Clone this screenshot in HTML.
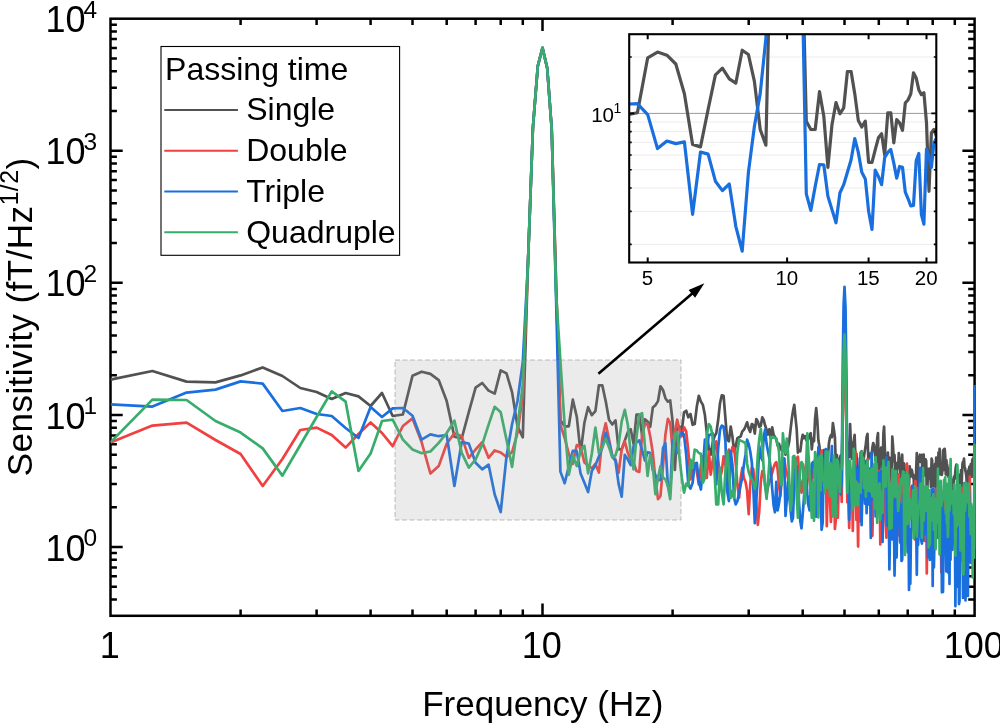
<!DOCTYPE html>
<html lang="en"><head><meta charset="utf-8"><title>Sensitivity vs Frequency</title>
<style>html,body{margin:0;padding:0;background:#fff}body{width:1000px;height:724px;overflow:hidden}svg{display:block}</style>
</head><body>
<svg width="1000" height="724" viewBox="0 0 1000 724" font-family="'Liberation Sans', Arial, Helvetica, sans-serif" fill="#000">
<rect x="0" y="0" width="1000" height="724" fill="#fff"/>
<defs><clipPath id="cm"><rect x="110.5" y="18.7" width="865.3" height="597.1"/></clipPath>
<clipPath id="ci"><rect x="629.2" y="34.2" width="307.1" height="228.3"/></clipPath></defs>
<g stroke="#000" stroke-width="2.5" fill="none" stroke-linecap="butt">
<rect x="110.5" y="18.7" width="864.1" height="597.1"/>
<path d="M110.5 599.6h6.4M974.6 599.6h-6.4M110.5 586.8h6.4M974.6 586.8h-6.4M110.5 576.3h6.4M974.6 576.3h-6.4M110.5 567.5h6.4M974.6 567.5h-6.4M110.5 559.8h6.4M974.6 559.8h-6.4M110.5 553.0h6.4M974.6 553.0h-6.4M110.5 547.0h12.2M974.6 547.0h-12.2M110.5 507.2h6.4M974.6 507.2h-6.4M110.5 484.0h6.4M974.6 484.0h-6.4M110.5 467.5h6.4M974.6 467.5h-6.4M110.5 454.7h6.4M974.6 454.7h-6.4M110.5 444.2h6.4M974.6 444.2h-6.4M110.5 435.4h6.4M974.6 435.4h-6.4M110.5 427.7h6.4M974.6 427.7h-6.4M110.5 421.0h6.4M974.6 421.0h-6.4M110.5 414.9h12.2M974.6 414.9h-12.2M110.5 375.2h6.4M974.6 375.2h-6.4M110.5 351.9h6.4M974.6 351.9h-6.4M110.5 335.4h6.4M974.6 335.4h-6.4M110.5 322.6h6.4M974.6 322.6h-6.4M110.5 312.1h6.4M974.6 312.1h-6.4M110.5 303.3h6.4M974.6 303.3h-6.4M110.5 295.6h6.4M974.6 295.6h-6.4M110.5 288.9h6.4M974.6 288.9h-6.4M110.5 282.8h12.2M974.6 282.8h-12.2M110.5 243.1h6.4M974.6 243.1h-6.4M110.5 219.8h6.4M974.6 219.8h-6.4M110.5 203.3h6.4M974.6 203.3h-6.4M110.5 190.5h6.4M974.6 190.5h-6.4M110.5 180.1h6.4M974.6 180.1h-6.4M110.5 171.2h6.4M974.6 171.2h-6.4M110.5 163.6h6.4M974.6 163.6h-6.4M110.5 156.8h6.4M974.6 156.8h-6.4M110.5 150.8h12.2M974.6 150.8h-12.2M110.5 111.0h6.4M974.6 111.0h-6.4M110.5 87.7h6.4M974.6 87.7h-6.4M110.5 71.2h6.4M974.6 71.2h-6.4M110.5 58.4h6.4M974.6 58.4h-6.4M110.5 48.0h6.4M974.6 48.0h-6.4M110.5 39.1h6.4M974.6 39.1h-6.4M110.5 31.5h6.4M974.6 31.5h-6.4M110.5 24.7h6.4M974.6 24.7h-6.4M240.6 615.8v-6.4M240.6 18.7v6.4M316.6 615.8v-6.4M316.6 18.7v6.4M370.6 615.8v-6.4M370.6 18.7v6.4M412.5 615.8v-6.4M412.5 18.7v6.4M446.7 615.8v-6.4M446.7 18.7v6.4M475.6 615.8v-6.4M475.6 18.7v6.4M500.7 615.8v-6.4M500.7 18.7v6.4M522.8 615.8v-6.4M522.8 18.7v6.4M542.5 615.8v-12.2M542.5 18.7v12.2M672.6 615.8v-6.4M672.6 18.7v6.4M748.7 615.8v-6.4M748.7 18.7v6.4M802.7 615.8v-6.4M802.7 18.7v6.4M844.5 615.8v-6.4M844.5 18.7v6.4M878.8 615.8v-6.4M878.8 18.7v6.4M907.7 615.8v-6.4M907.7 18.7v6.4M932.7 615.8v-6.4M932.7 18.7v6.4M954.8 615.8v-6.4M954.8 18.7v6.4"/>
</g>
<rect x="395" y="360" width="286" height="160" fill="none" stroke="#bdbdbd" stroke-width="1" stroke-dasharray="5,2.5"/>
<g clip-path="url(#cm)">
<polyline points="110.5,379.6 152.4,371.0 186.6,381.6 215.5,382.4 240.6,375.4 262.7,367.4 282.4,376.0 300.3,388.0 316.6,392.0 331.7,399.0 345.6,393.0 358.5,396.4 370.6,406.0 382.0,393.0 392.7,416.0 402.9,414.5 412.5,375.7 421.6,371.7 430.4,373.9 438.7,380.1 446.7,401.1 454.4,436.8 461.7,438.5 468.8,412.2 475.6,387.7 482.2,383.0 488.6,390.6 494.7,393.6 500.7,370.4 506.5,373.4 512.1,392.4 517.5,426.3 522.8,437.3 527.9,265.0 532.9,128.0 537.8,66.0 542.5,47.9 547.2,68.0 551.7,129.0 556.1,285.0 560.4,420.4 564.7,426.3 568.8,426.3 572.8,399.6 576.8,416.9 580.6,452.9 584.4,422.8 588.1,407.2 591.8,415.2 595.4,411.1 598.9,385.4 602.3,385.4 605.7,401.1 609.0,419.8 612.3,424.5 615.5,420.4 618.6,449.4 621.7,449.4 624.8,440.6 627.8,432.1 630.7,429.2 633.6,444.1 636.5,414.6 639.3,414.6 642.1,435.6 644.9,419.3 647.6,421.6 650.2,426.9 652.8,407.6 655.4,405.2 658.0,401.1 660.5,386.3 663.0,390.0 665.4,398.2 667.9,401.7 670.2,400.3 672.6,421.6 674.9,469.9 677.2,428.6 679.5,426.3 681.8,430.9 684.0,412.4 686.2,410.7 688.3,417.3 690.5,414.0 692.6,424.8 694.7,424.0 696.8,406.6 698.8,395.8 700.9,401.6 702.9,404.9 704.9,414.9 706.8,433.1 708.8,448.0 710.7,454.7 712.6,443.0 714.5,436.4 716.3,433.1 718.2,419.8 720.0,403.2 721.8,395.3 723.6,395.8 725.4,418.2 727.2,439.7 728.9,441.4 730.7,426.5 732.4,436.4 734.1,451.3 735.7,446.4 737.4,438.1 739.1,437.2 740.7,436.4 742.3,431.4 743.9,429.8 745.5,426.5 747.1,422.3 748.7,428.6 750.2,431.9 751.8,424.0 753.3,424.9 754.8,433.6 756.3,419.0 757.8,421.4 759.3,426.8 760.8,425.8 762.3,417.3 763.7,419.9 765.1,425.5 766.6,429.7 768.0,434.5 769.4,429.2 770.8,438.9 772.2,427.3 773.6,434.7 774.9,436.9 776.3,439.2 777.6,445.6 779.0,443.8 780.3,448.6 781.6,450.0 782.9,444.7 784.2,448.8 785.5,454.7 786.8,452.3 788.0,447.0 789.3,440.9 790.6,429.2 791.8,418.9 793.0,411.0 794.3,404.9 795.5,417.7 796.7,429.5 797.9,452.6 799.1,450.2 800.3,451.4 801.5,441.3 802.7,434.8 803.8,438.0 805.0,436.1 806.2,439.9 807.3,441.4 808.4,438.5 809.6,434.9 810.7,433.1 811.8,449.3 812.9,438.6 814.0,441.2 815.1,418.6 816.2,408.2 817.3,420.3 818.4,440.6 819.5,446.5 820.6,458.7 821.6,476.5 822.7,471.0 823.7,450.1 824.8,452.5 825.8,449.7 826.8,469.2 827.9,457.8 828.9,443.4 829.9,437.7 830.9,435.2 831.9,437.2 832.9,423.1 833.9,429.7 834.9,437.5 835.9,466.0 836.9,455.0 837.9,471.5 838.8,474.7 839.8,458.6 840.7,455.5 841.7,470.3 842.7,420.0 843.6,360.0 844.5,342.0 845.5,362.0 846.4,423.0 847.3,462.5 848.3,443.4 849.2,457.1 850.1,424.0 851.0,446.3 851.9,458.7 852.8,442.8 853.7,442.0 854.6,434.8 855.5,458.0 856.4,453.5 857.2,466.3 858.1,467.7 859.0,477.1 859.8,473.8 860.7,452.3 861.6,451.3 862.4,458.8 863.3,464.9 864.1,455.4 865.0,449.9 865.8,444.6 866.6,437.2 867.5,433.9 868.3,459.6 869.1,454.9 869.9,453.6 870.8,454.9 871.6,457.3 872.4,447.4 873.2,443.0 874.0,445.0 874.8,450.7 875.6,460.5 876.4,461.5 877.2,438.2 878.0,433.1 878.8,477.9 879.5,468.9 880.3,454.7 881.1,447.7 881.9,450.7 882.6,469.5 883.4,433.5 884.1,426.5 884.9,450.3 885.7,475.7 886.4,463.0 887.2,471.3 887.9,452.5 888.6,473.1 889.4,457.5 890.1,461.8 890.9,463.1 891.6,483.1 892.3,436.5 893.0,445.6 893.8,460.9 894.5,454.9 895.2,470.0 895.9,475.0 896.6,478.4 897.3,462.8 898.1,467.9 898.8,453.1 899.5,463.7 900.2,471.0 900.9,492.0 901.5,462.5 902.2,454.7 902.9,478.7 903.6,463.0 904.3,464.3 905.0,489.1 905.7,471.2 906.3,470.1 907.0,482.3 907.7,473.9 908.3,472.6 909.0,485.8 909.7,466.3 910.3,476.9 911.0,470.4 911.7,469.8 912.3,472.3 913.0,477.7 913.6,475.1 914.3,497.5 914.9,475.8 915.5,506.1 916.2,469.0 916.8,453.1 917.5,487.9 918.1,463.0 918.7,458.7 919.4,457.1 920.0,454.7 920.6,462.0 921.2,457.2 921.9,454.9 922.5,483.6 923.1,464.3 923.7,454.7 924.3,475.5 924.9,472.4 925.6,459.3 926.2,461.0 926.8,494.7 927.4,488.7 928.0,468.9 928.6,471.4 929.2,478.3 929.8,468.7 930.4,475.4 931.0,487.2 931.6,458.7 932.1,460.3 932.7,476.0 933.3,486.0 933.9,472.3 934.5,470.7 935.1,463.8 935.6,487.4 936.2,457.5 936.8,481.4 937.4,463.8 937.9,469.2 938.5,452.6 939.1,466.4 939.6,448.8 940.2,474.4 940.8,468.6 941.3,472.2 941.9,474.9 942.4,470.1 943.0,450.6 943.6,449.7 944.1,470.0 944.7,448.8 945.2,455.9 945.8,474.5 946.3,460.0 946.8,463.2 947.4,466.2 947.9,476.3 948.5,468.3 949.0,469.8 949.5,472.5 950.1,476.8 950.6,478.3 951.1,501.1 951.7,481.0 952.2,479.9 952.7,480.7 953.3,488.5 953.8,477.8 954.3,476.3 954.8,478.5 955.4,470.6 955.9,466.8 956.4,464.5 956.9,468.1 957.4,504.6 957.9,491.3 958.4,480.5 959.0,481.3 959.5,474.9 960.0,510.1 960.5,488.6 961.0,470.1 961.5,489.6 962.0,473.9 962.5,463.9 963.0,461.8 963.5,461.9 964.0,458.7 964.5,467.3 965.0,467.7 965.5,471.3 966.0,473.4 966.5,478.1 966.9,497.7 967.4,483.8 967.9,472.2 968.4,470.5 968.9,468.9 969.4,498.9 969.8,466.4 970.3,476.3 970.8,464.2 971.3,466.6 971.8,476.8 972.2,460.1 972.7,459.0 973.2,461.2 973.7,456.8 974.1,463.3 974.6,452.0" fill="none" stroke="#515151" stroke-width="2.7" stroke-linejoin="round" stroke-linecap="butt" />
<polyline points="110.5,442.4 152.4,425.6 186.6,422.6 215.5,440.0 240.6,454.0 262.7,486.0 282.4,459.0 300.3,430.0 316.6,427.6 331.7,435.0 345.6,447.6 358.5,434.0 370.6,422.4 382.0,433.0 392.7,446.2 402.9,426.0 412.5,418.4 421.6,442.1 430.4,473.5 438.7,466.1 446.7,443.7 454.4,433.3 461.7,436.3 468.8,457.8 475.6,449.5 482.2,442.1 488.6,457.8 494.7,450.4 500.7,452.5 506.5,457.0 512.1,452.0 517.5,433.0 522.8,395.0 527.9,265.0 532.9,128.0 537.8,66.0 542.5,47.9 547.2,68.0 551.7,129.0 556.1,285.0 560.4,425.0 564.7,438.0 568.8,453.8 572.8,463.9 576.8,445.0 580.6,447.2 584.4,462.5 588.1,465.4 591.8,468.3 595.4,463.9 598.9,472.6 602.3,437.8 605.7,423.3 609.0,439.3 612.3,455.9 615.5,459.5 618.6,472.7 621.7,449.5 624.8,441.3 627.8,452.8 630.7,459.5 633.6,462.8 636.5,471.0 639.3,471.9 642.1,434.6 644.9,424.7 647.6,423.9 650.2,436.3 652.8,452.8 655.4,479.3 658.0,499.2 660.5,495.9 663.0,466.1 665.4,434.6 667.9,418.9 670.2,423.0 672.6,449.5 674.9,431.3 677.2,419.7 679.5,429.7 681.8,436.3 684.0,427.2 686.2,431.3 688.3,451.2 690.5,479.3 692.6,467.9 694.7,462.9 696.8,471.2 698.8,484.5 700.9,464.6 702.9,456.3 704.9,471.2 706.8,477.9 708.8,451.3 710.7,474.6 712.6,461.3 714.5,448.0 716.3,441.4 718.2,459.6 720.0,477.9 721.8,471.2 723.6,456.3 725.4,464.6 727.2,477.9 728.9,449.7 730.7,454.7 732.4,447.2 734.1,448.0 735.7,462.9 737.4,484.5 739.1,497.8 740.7,477.9 742.3,467.9 743.9,477.9 745.5,481.8 747.1,490.8 748.7,514.1 750.2,485.4 751.8,467.5 753.3,469.2 754.8,485.4 756.3,503.4 757.8,524.9 759.3,510.5 760.8,481.8 762.3,471.0 763.7,472.8 765.1,485.4 766.6,494.4 768.0,487.2 769.4,481.8 770.8,478.2 772.2,472.8 773.6,467.5 774.9,463.9 776.3,462.1 777.6,469.2 779.0,485.4 780.3,496.2 781.6,481.8 782.9,467.5 784.2,458.5 785.5,467.5 786.8,472.8 788.0,478.2 789.3,490.8 790.6,499.8 791.8,489.0 793.0,478.2 794.3,471.0 795.5,463.9 796.7,458.5 797.9,456.7 799.1,471.0 800.3,485.4 801.5,492.6 802.7,481.8 803.8,474.6 805.0,469.2 806.2,463.9 807.3,462.1 808.4,471.0 809.6,481.8 810.7,489.0 811.8,476.4 812.9,478.2 814.0,463.5 815.1,469.4 816.2,473.3 817.3,492.8 818.4,491.0 819.5,489.1 820.6,492.8 821.6,450.5 822.7,490.5 823.7,487.6 824.8,485.9 825.8,463.9 826.8,526.2 827.9,478.9 828.9,498.9 829.9,497.2 830.9,522.0 831.9,503.4 832.9,499.2 833.9,463.5 834.9,528.9 835.9,519.0 836.9,486.3 837.9,517.6 838.8,481.0 839.8,488.3 840.7,464.7 841.7,502.0 842.7,425.0 843.6,364.0 844.5,346.0 845.5,366.0 846.4,428.0 847.3,502.2 848.3,495.9 849.2,528.0 850.1,468.9 851.0,475.2 851.9,478.7 852.8,531.0 853.7,480.6 854.6,456.0 855.5,451.6 856.4,520.0 857.2,491.9 858.1,546.6 859.0,472.6 859.8,485.5 860.7,521.1 861.6,470.8 862.4,495.1 863.3,484.6 864.1,471.3 865.0,499.3 865.8,478.5 866.6,502.8 867.5,459.3 868.3,498.4 869.1,474.3 869.9,497.6 870.8,478.8 871.6,511.3 872.4,535.8 873.2,496.0 874.0,487.8 874.8,508.1 875.6,484.1 876.4,515.0 877.2,488.9 878.0,490.9 878.8,496.5 879.5,470.9 880.3,544.5 881.1,534.0 881.9,499.7 882.6,536.7 883.4,500.6 884.1,483.8 884.9,487.6 885.7,519.1 886.4,537.6 887.2,496.3 887.9,526.8 888.6,499.2 889.4,491.4 890.1,492.8 890.9,493.8 891.6,519.9 892.3,469.6 893.0,513.3 893.8,498.4 894.5,513.4 895.2,554.4 895.9,498.4 896.6,528.2 897.3,476.6 898.1,535.2 898.8,474.1 899.5,487.0 900.2,542.8 900.9,493.6 901.5,498.3 902.2,519.7 902.9,475.7 903.6,527.1 904.3,494.6 905.0,490.1 905.7,526.1 906.3,499.1 907.0,463.7 907.7,494.8 908.3,504.6 909.0,501.7 909.7,493.7 910.3,505.0 911.0,487.3 911.7,491.2 912.3,520.6 913.0,504.8 913.6,530.9 914.3,496.0 914.9,539.6 915.5,481.0 916.2,516.1 916.8,496.4 917.5,510.8 918.1,488.1 918.7,495.5 919.4,508.5 920.0,502.9 920.6,490.7 921.2,513.8 921.9,534.9 922.5,483.4 923.1,531.3 923.7,493.5 924.3,541.0 924.9,532.0 925.6,510.4 926.2,500.8 926.8,573.5 927.4,508.4 928.0,518.9 928.6,490.3 929.2,503.4 929.8,501.2 930.4,554.3 931.0,517.4 931.6,521.8 932.1,523.5 932.7,540.7 933.3,488.9 933.9,496.4 934.5,506.0 935.1,503.9 935.6,509.4 936.2,488.9 936.8,491.3 937.4,528.4 937.9,514.6 938.5,508.8 939.1,509.6 939.6,521.4 940.2,510.6 940.8,525.1 941.3,572.2 941.9,527.7 942.4,516.4 943.0,491.6 943.6,507.3 944.1,529.3 944.7,510.0 945.2,487.2 945.8,531.4 946.3,555.0 946.8,530.4 947.4,486.2 947.9,484.6 948.5,540.9 949.0,503.3 949.5,524.1 950.1,510.9 950.6,559.7 951.1,525.6 951.7,544.7 952.2,544.8 952.7,518.3 953.3,522.8 953.8,507.0 954.3,511.5 954.8,517.1 955.4,509.3 955.9,502.6 956.4,503.4 956.9,514.6 957.4,501.5 957.9,498.4 958.4,512.8 959.0,559.8 959.5,504.4 960.0,498.2 960.5,530.6 961.0,507.6 961.5,560.5 962.0,511.2 962.5,487.9 963.0,500.7 963.5,513.8 964.0,509.8 964.5,501.7 965.0,532.9 965.5,566.0 966.0,489.7 966.5,535.3 966.9,531.3 967.4,508.9 967.9,533.3 968.4,535.7 968.9,494.9 969.4,513.3 969.8,476.5 970.3,504.6 970.8,519.6 971.3,516.0 971.8,549.5 972.2,528.1 972.7,540.8 973.2,534.2 973.7,529.7 974.1,548.2 974.6,448.0" fill="none" stroke="#F14040" stroke-width="2.7" stroke-linejoin="round" stroke-linecap="butt" />
<polyline points="110.5,404.4 152.4,406.6 186.6,392.6 215.5,389.6 240.6,381.4 262.7,383.6 282.4,411.0 300.3,408.0 316.6,414.0 331.7,416.0 345.6,428.0 358.5,438.0 370.6,407.0 382.0,417.0 392.7,408.4 402.9,408.0 412.5,415.8 421.6,439.7 430.4,434.4 438.7,436.2 446.7,435.0 454.4,486.0 461.7,442.1 468.8,443.6 475.6,462.7 482.2,469.3 488.6,464.7 494.7,494.5 500.7,512.0 506.5,456.5 512.1,424.0 517.5,401.0 522.8,362.0 527.9,265.0 532.9,128.0 537.8,66.0 542.5,47.9 547.2,68.0 551.7,129.0 556.1,300.0 560.4,471.6 564.7,483.3 568.8,466.3 572.8,450.9 576.8,451.2 580.6,473.4 584.4,482.7 588.1,492.1 591.8,471.0 595.4,465.2 598.9,456.4 602.3,447.6 605.7,432.7 609.0,442.4 612.3,456.4 615.5,461.1 618.6,483.9 621.7,496.7 624.8,454.9 627.8,459.3 630.7,465.2 633.6,445.9 636.5,442.4 639.3,440.4 642.1,450.0 644.9,460.5 647.6,452.3 650.2,452.9 652.8,470.4 655.4,475.1 658.0,480.1 660.5,479.8 663.0,448.2 665.4,443.2 667.9,486.2 670.2,493.0 672.6,440.0 674.9,445.9 677.2,452.9 679.5,436.0 681.8,432.5 684.0,434.8 686.2,454.7 688.3,484.5 690.5,488.6 692.6,482.8 694.7,464.6 696.8,462.9 698.8,481.2 700.9,489.5 702.9,467.9 704.9,439.7 706.8,449.7 708.8,434.8 710.7,434.8 712.6,433.1 714.5,456.3 716.3,484.5 718.2,448.0 720.0,429.8 721.8,425.6 723.6,426.5 725.4,441.4 727.2,491.1 728.9,501.1 730.7,451.3 732.4,464.6 734.1,497.8 735.7,504.4 737.4,501.1 739.1,492.8 740.7,484.5 742.3,477.9 743.9,464.6 745.5,454.9 747.1,439.6 748.7,444.1 750.2,451.3 751.8,462.1 753.3,487.2 754.8,523.1 756.3,499.8 757.8,478.2 759.3,445.9 760.8,456.7 762.3,460.3 763.7,436.9 765.1,429.7 766.6,444.1 768.0,451.3 769.4,458.5 770.8,469.2 772.2,489.0 773.6,505.2 774.9,512.3 776.3,481.8 777.6,510.5 779.0,503.4 780.3,494.4 781.6,469.2 782.9,460.3 784.2,458.5 785.5,515.9 786.8,499.8 788.0,481.8 789.3,496.2 790.6,510.5 791.8,521.3 793.0,517.7 794.3,481.8 795.5,469.2 796.7,465.7 797.9,485.4 799.1,503.4 800.3,521.3 801.5,528.5 802.7,514.1 803.8,499.8 805.0,478.2 806.2,471.0 807.3,494.4 808.4,505.2 809.6,510.5 810.7,485.4 811.8,463.9 812.9,462.1 814.0,466.3 815.1,459.3 816.2,516.7 817.3,472.4 818.4,447.1 819.5,494.1 820.6,492.2 821.6,529.8 822.7,522.3 823.7,458.9 824.8,460.1 825.8,449.2 826.8,458.7 827.9,472.4 828.9,479.0 829.9,475.1 830.9,470.2 831.9,446.0 832.9,504.0 833.9,478.0 834.9,480.6 835.9,494.5 836.9,503.0 837.9,463.8 838.8,474.1 839.8,469.1 840.7,494.3 841.7,480.3 842.7,367.0 843.6,305.0 844.5,286.9 845.5,307.0 846.4,370.0 847.3,477.2 848.3,467.0 849.2,519.8 850.1,480.7 851.0,480.6 851.9,497.7 852.8,480.0 853.7,483.2 854.6,468.2 855.5,465.7 856.4,476.0 857.2,479.4 858.1,469.5 859.0,502.2 859.8,458.3 860.7,482.1 861.6,525.2 862.4,488.8 863.3,493.2 864.1,468.0 865.0,503.7 865.8,461.1 866.6,513.2 867.5,486.7 868.3,504.4 869.1,468.6 869.9,468.6 870.8,538.0 871.6,452.4 872.4,474.0 873.2,498.3 874.0,482.0 874.8,475.4 875.6,516.5 876.4,512.6 877.2,500.8 878.0,475.2 878.8,472.9 879.5,484.9 880.3,475.0 881.1,471.1 881.9,472.1 882.6,542.0 883.4,480.9 884.1,466.2 884.9,480.2 885.7,485.6 886.4,457.4 887.2,525.5 887.9,473.4 888.6,496.5 889.4,569.4 890.1,528.2 890.9,503.9 891.6,505.6 892.3,539.4 893.0,538.4 893.8,500.3 894.5,575.6 895.2,543.9 895.9,470.9 896.6,557.4 897.3,519.1 898.1,489.6 898.8,524.7 899.5,502.8 900.2,541.7 900.9,505.2 901.5,561.0 902.2,559.7 902.9,528.8 903.6,495.3 904.3,527.7 905.0,514.3 905.7,477.4 906.3,497.3 907.0,531.9 907.7,552.1 908.3,493.4 909.0,590.0 909.7,542.0 910.3,583.8 911.0,529.1 911.7,528.3 912.3,485.6 913.0,508.4 913.6,510.0 914.3,519.9 914.9,492.7 915.5,506.1 916.2,525.3 916.8,574.8 917.5,523.4 918.1,545.0 918.7,529.9 919.4,500.0 920.0,467.9 920.6,501.9 921.2,540.0 921.9,543.6 922.5,512.2 923.1,540.0 923.7,517.6 924.3,532.1 924.9,532.8 925.6,534.1 926.2,517.6 926.8,488.9 927.4,532.0 928.0,557.1 928.6,545.9 929.2,541.3 929.8,560.0 930.4,514.8 931.0,515.8 931.6,489.7 932.1,501.0 932.7,586.0 933.3,488.7 933.9,567.5 934.5,537.2 935.1,516.6 935.6,500.7 936.2,534.6 936.8,525.7 937.4,518.9 937.9,538.0 938.5,534.2 939.1,492.4 939.6,537.1 940.2,489.0 940.8,501.3 941.3,512.3 941.9,592.3 942.4,492.6 943.0,592.0 943.6,537.3 944.1,527.1 944.7,541.7 945.2,510.6 945.8,521.4 946.3,571.5 946.8,502.9 947.4,510.4 947.9,515.6 948.5,572.9 949.0,516.0 949.5,584.0 950.1,503.4 950.6,492.2 951.1,530.4 951.7,536.9 952.2,549.8 952.7,510.3 953.3,497.6 953.8,497.6 954.3,536.3 954.8,508.1 955.4,606.2 955.9,540.0 956.4,559.9 956.9,540.0 957.4,538.3 957.9,586.8 958.4,511.9 959.0,604.1 959.5,601.5 960.0,523.3 960.5,525.7 961.0,508.8 961.5,541.8 962.0,521.9 962.5,537.9 963.0,598.0 963.5,512.5 964.0,522.7 964.5,483.0 965.0,545.9 965.5,600.5 966.0,513.3 966.5,513.1 966.9,523.6 967.4,502.6 967.9,596.0 968.4,523.8 968.9,491.1 969.4,524.8 969.8,532.3 970.3,522.8 970.8,562.8 971.3,537.4 971.8,541.8 972.2,529.3 972.7,561.2 973.2,524.7 973.7,543.7 974.1,539.1 974.6,385.0" fill="none" stroke="#1A6FDF" stroke-width="2.7" stroke-linejoin="round" stroke-linecap="butt" />
<polyline points="110.5,442.4 152.4,399.6 186.6,400.0 215.5,421.0 240.6,432.6 262.7,448.4 282.4,475.6 300.3,445.0 316.6,417.0 331.7,391.4 345.6,401.6 358.5,471.0 370.6,453.6 382.0,421.0 392.7,419.7 402.9,439.6 412.5,449.5 421.6,453.2 430.4,451.5 438.7,442.9 446.7,433.0 454.4,420.6 461.7,452.8 468.8,467.7 475.6,459.5 482.2,444.6 488.6,424.7 494.7,406.8 500.7,412.3 506.5,439.6 512.1,466.9 517.5,426.0 522.8,385.0 527.9,265.0 532.9,128.0 537.8,66.0 542.5,47.9 547.2,68.0 551.7,129.0 556.1,294.0 560.4,361.0 564.7,426.0 568.8,474.8 572.8,455.2 576.8,466.1 580.6,450.9 584.4,445.8 588.1,473.3 591.8,453.8 595.4,427.7 598.9,453.0 602.3,447.2 605.7,438.6 609.0,447.2 612.3,457.4 615.5,455.3 618.6,444.6 621.7,421.4 624.8,409.8 627.8,424.7 630.7,452.8 633.6,469.4 636.5,437.1 639.3,414.8 642.1,413.1 644.9,446.2 647.6,476.0 650.2,454.5 652.8,466.1 655.4,494.2 658.0,477.7 660.5,466.1 663.0,477.7 665.4,479.3 667.9,486.0 670.2,499.2 672.6,459.5 674.9,433.8 677.2,432.2 679.5,457.8 681.8,477.7 684.0,492.6 686.2,483.5 688.3,486.0 690.5,459.5 692.6,467.9 694.7,449.7 696.8,450.5 698.8,453.0 700.9,453.8 702.9,482.8 704.9,477.9 706.8,434.8 708.8,424.0 710.7,426.5 712.6,436.4 714.5,471.2 716.3,504.4 718.2,504.4 720.0,467.9 721.8,492.8 723.6,504.4 725.4,471.2 727.2,451.3 728.9,467.9 730.7,497.8 732.4,491.1 734.1,497.8 735.7,477.9 737.4,451.3 739.1,439.7 740.7,440.6 742.3,441.4 743.9,442.2 745.5,443.2 747.1,463.9 748.7,471.9 750.2,476.4 751.8,479.1 753.3,481.8 754.8,489.0 756.3,481.8 757.8,454.9 759.3,438.7 760.8,428.9 762.3,444.1 763.7,469.2 765.1,485.4 766.6,498.9 768.0,481.8 769.4,462.1 770.8,436.9 772.2,437.8 773.6,436.9 774.9,437.8 776.3,438.7 777.6,444.1 779.0,451.3 780.3,481.8 781.6,485.4 782.9,433.3 784.2,447.7 785.5,453.1 786.8,438.7 788.0,453.1 789.3,481.8 790.6,510.5 791.8,499.8 793.0,456.7 794.3,455.8 795.5,462.1 796.7,496.2 797.9,517.7 799.1,490.8 800.3,465.7 801.5,462.1 802.7,463.9 803.8,485.4 805.0,503.4 806.2,463.9 807.3,433.3 808.4,453.1 809.6,472.8 810.7,496.2 811.8,517.7 812.9,481.8 814.0,520.8 815.1,452.1 816.2,458.2 817.3,458.8 818.4,517.4 819.5,456.6 820.6,490.2 821.6,454.7 822.7,480.0 823.7,477.3 824.8,492.8 825.8,451.6 826.8,488.0 827.9,451.7 828.9,470.0 829.9,495.8 830.9,463.6 831.9,469.5 832.9,516.5 833.9,455.8 834.9,484.6 835.9,516.8 836.9,459.3 837.9,461.4 838.8,477.7 839.8,491.9 840.7,470.9 841.7,468.4 842.7,414.0 843.6,353.0 844.5,334.5 845.5,355.0 846.4,417.0 847.3,493.0 848.3,474.2 849.2,462.6 850.1,460.6 851.0,476.7 851.9,502.0 852.8,509.5 853.7,448.8 854.6,480.6 855.5,505.6 856.4,481.9 857.2,494.3 858.1,504.8 859.0,484.2 859.8,484.4 860.7,492.7 861.6,451.7 862.4,468.4 863.3,457.9 864.1,487.9 865.0,465.5 865.8,496.6 866.6,478.6 867.5,460.9 868.3,490.7 869.1,476.8 869.9,470.7 870.8,491.8 871.6,468.6 872.4,496.3 873.2,490.3 874.0,464.7 874.8,508.7 875.6,457.2 876.4,478.5 877.2,522.8 878.0,494.9 878.8,484.9 879.5,483.5 880.3,519.7 881.1,492.1 881.9,501.6 882.6,512.8 883.4,460.4 884.1,478.9 884.9,475.0 885.7,486.7 886.4,467.7 887.2,472.8 887.9,472.9 888.6,461.9 889.4,529.3 890.1,484.5 890.9,491.0 891.6,528.0 892.3,483.8 893.0,469.2 893.8,473.4 894.5,495.4 895.2,496.6 895.9,471.0 896.6,490.4 897.3,483.7 898.1,511.0 898.8,504.8 899.5,493.3 900.2,492.3 900.9,479.2 901.5,481.0 902.2,482.2 902.9,471.5 903.6,471.7 904.3,543.2 905.0,555.0 905.7,475.2 906.3,491.4 907.0,472.4 907.7,524.1 908.3,475.2 909.0,520.9 909.7,498.7 910.3,519.1 911.0,501.3 911.7,510.6 912.3,511.4 913.0,490.3 913.6,538.3 914.3,517.0 914.9,486.0 915.5,488.9 916.2,522.4 916.8,536.5 917.5,520.0 918.1,514.8 918.7,504.9 919.4,504.4 920.0,497.9 920.6,483.6 921.2,505.7 921.9,537.6 922.5,510.5 923.1,468.1 923.7,520.5 924.3,489.8 924.9,510.7 925.6,486.5 926.2,510.7 926.8,489.9 927.4,486.3 928.0,497.4 928.6,547.5 929.2,490.1 929.8,544.6 930.4,503.6 931.0,509.3 931.6,498.1 932.1,508.3 932.7,520.9 933.3,494.4 933.9,529.8 934.5,498.7 935.1,499.1 935.6,549.3 936.2,508.4 936.8,521.0 937.4,523.0 937.9,468.7 938.5,512.0 939.1,497.8 939.6,554.4 940.2,497.2 940.8,480.8 941.3,506.0 941.9,501.9 942.4,500.0 943.0,499.4 943.6,498.2 944.1,479.8 944.7,495.4 945.2,477.4 945.8,513.5 946.3,483.6 946.8,522.8 947.4,516.9 947.9,536.9 948.5,511.8 949.0,477.4 949.5,510.5 950.1,481.7 950.6,459.0 951.1,500.3 951.7,497.7 952.2,503.6 952.7,491.4 953.3,498.1 953.8,514.1 954.3,484.6 954.8,512.8 955.4,555.6 955.9,503.2 956.4,499.3 956.9,526.5 957.4,465.1 957.9,499.9 958.4,524.1 959.0,497.1 959.5,499.1 960.0,485.2 960.5,550.5 961.0,505.1 961.5,500.8 962.0,494.5 962.5,509.3 963.0,573.6 963.5,574.2 964.0,484.5 964.5,503.0 965.0,511.0 965.5,503.9 966.0,482.7 966.5,498.8 966.9,493.7 967.4,499.6 967.9,502.3 968.4,498.0 968.9,483.5 969.4,516.6 969.8,511.5 970.3,518.4 970.8,533.9 971.3,504.2 971.8,516.3 972.2,510.0 972.7,577.5 973.2,506.9 973.7,524.8 974.1,557.7 974.6,443.8" fill="none" stroke="#37AD6B" stroke-width="2.7" stroke-linejoin="round" stroke-linecap="butt" />
</g>
<rect x="395" y="360" width="286" height="160" fill="#999" fill-opacity="0.2"/>
<text x="85.5" y="560.6" font-size="36.0" text-anchor="end">10</text><text x="83.6" y="545.9" font-size="24.5">0</text>
<text x="85.5" y="428.5" font-size="36.0" text-anchor="end">10</text><text x="83.6" y="413.8" font-size="24.5">1</text>
<text x="85.5" y="296.4" font-size="36.0" text-anchor="end">10</text><text x="83.6" y="281.7" font-size="24.5">2</text>
<text x="85.5" y="164.4" font-size="36.0" text-anchor="end">10</text><text x="83.6" y="149.7" font-size="24.5">3</text>
<text x="85.5" y="32.3" font-size="36.0" text-anchor="end">10</text><text x="83.6" y="17.6" font-size="24.5">4</text>
<text x="109.7" y="658" font-size="36.0" text-anchor="middle">1</text>
<text x="541.8" y="658" font-size="36.0" text-anchor="middle">10</text>
<text x="973.8" y="658" font-size="36.0" text-anchor="middle">100</text>
<text x="542.8" y="716.4" font-size="35" text-anchor="middle">Frequency (Hz)</text>
<text transform="translate(32.3 476.2) rotate(-90)" font-size="35" letter-spacing="0.45">Sensitivity (fT/Hz<tspan font-size="25" dy="-14.5">1/2</tspan><tspan dy="14.5">)</tspan></text>
<rect x="161" y="46.5" width="238.6" height="208.8" fill="#fff" stroke="#000" stroke-width="1.1"/>
<text x="165.1" y="80.3" font-size="32">Passing time</text>
<path d="M164.3 110.1H237.9" stroke="#515151" stroke-width="2" fill="none"/>
<text x="246.2" y="120.2" font-size="32">Single</text>
<path d="M164.3 150.8H237.9" stroke="#F14040" stroke-width="2" fill="none"/>
<text x="246.2" y="161.1" font-size="32">Double</text>
<path d="M164.3 191.6H237.9" stroke="#1A6FDF" stroke-width="2" fill="none"/>
<text x="246.2" y="201.9" font-size="32">Triple</text>
<path d="M164.3 232.3H237.9" stroke="#37AD6B" stroke-width="2" fill="none"/>
<text x="246.2" y="242.8" font-size="32">Quadruple</text>
<rect x="629.2" y="34.2" width="307.1" height="228.3" fill="#fff"/>
<path d="M629.2 244.4H936.3M629.2 211.4H936.3M629.2 188.0H936.3M629.2 169.8H936.3M629.2 155.0H936.3M629.2 142.4H936.3M629.2 131.6H936.3M629.2 122.0H936.3M629.2 57.0H936.3" stroke="#ececec" stroke-width="1" fill="none"/>
<path d="M629.2 113.4H936.3" stroke="#9a9a9a" stroke-width="1" fill="none"/>
<g clip-path="url(#ci)">
<polyline points="615.0,82.3 626.5,114.9 637.4,112.8 647.7,57.8 657.5,52.1 666.9,55.2 675.8,64.0 684.4,93.8 692.6,144.4 700.5,146.9 708.1,109.5 715.4,74.8 722.4,68.1 729.3,78.9 735.8,83.2 742.2,50.2 748.4,54.5 754.4,81.4 760.2,129.5 765.9,145.2 771.4,-99.3 776.8,-293.7 782.0,-381.7 787.1,-407.3 792.1,-378.8 796.9,-292.3 801.6,-70.9 806.3,121.2 810.8,129.5 815.2,129.5 819.5,91.7 823.8,116.2 827.9,167.3 832.0,124.5 836.0,102.5 839.9,113.8 843.7,107.9 847.4,71.5 851.1,71.5 854.8,93.9 858.3,120.4 861.8,127.0 865.3,121.2 868.6,162.3 872.0,162.3 875.2,149.9 878.4,137.8 881.6,133.7 884.7,154.9 887.8,112.9 890.8,112.9 893.8,142.8 896.7,119.6 899.6,122.9 902.5,130.3 905.3,103.0 908.1,99.7 910.8,93.9 913.5,72.8 916.2,78.1 918.8,89.7 921.4,94.7 923.9,92.7 926.5,122.9 929.0,191.3 931.4,132.8 933.9,129.5 936.3,136.1 938.7,109.8 941.0,107.4" fill="none" stroke="#515151" stroke-width="3.2" stroke-linejoin="round" stroke-linecap="butt" />
<polyline points="615.0,116.4 626.5,104.1 637.4,103.6 647.7,114.6 657.5,148.6 666.9,141.0 675.8,143.6 684.4,141.9 692.6,214.3 700.5,152.0 708.1,154.1 715.4,181.2 722.4,190.6 729.3,184.0 735.8,226.3 742.2,251.1 748.4,172.4 754.4,126.3 760.2,93.6 765.9,38.3 771.4,-99.3 776.8,-293.7 782.0,-381.7 787.1,-407.3 792.1,-378.8 796.9,-292.3 801.6,-49.7 806.3,193.8 810.8,210.4 815.2,186.4 819.5,164.5 823.8,164.8 827.9,196.3 832.0,209.6 836.0,222.8 839.9,193.0 843.7,184.7 847.4,172.3 851.1,159.8 854.8,138.6 858.3,152.4 861.8,172.3 865.3,178.9 868.6,211.2 872.0,229.5 875.2,170.1 878.4,176.4 881.6,184.7 884.7,157.3 887.8,152.4 890.8,149.5 893.8,163.1 896.7,178.1 899.6,166.5 902.5,167.3 905.3,192.2 908.1,198.8 910.8,205.9 913.5,205.4 916.2,160.7 918.8,153.5 921.4,214.6 923.9,224.2 926.5,149.1 929.0,157.3 931.4,167.3 933.9,143.2 936.3,138.3 938.7,141.5 941.0,169.8" fill="none" stroke="#1A6FDF" stroke-width="3.2" stroke-linejoin="round" stroke-linecap="butt" />
</g>
<g stroke="#000" fill="none">
<rect x="629.2" y="34.2" width="307.1" height="228.3" stroke-width="2.1"/>
<path d="M647.7 262.5v-5M647.7 34.2v5M787.1 262.5v-5M787.1 34.2v5M868.6 262.5v-5M868.6 34.2v5M926.5 262.5v-5M926.5 34.2v5" stroke-width="2"/>
<path d="M629.2 244.4h2.5M936.3 244.4h-2.5M629.2 211.4h2.5M936.3 211.4h-2.5M629.2 188.0h2.5M936.3 188.0h-2.5M629.2 169.8h2.5M936.3 169.8h-2.5M629.2 155.0h2.5M936.3 155.0h-2.5M629.2 142.4h2.5M936.3 142.4h-2.5M629.2 131.6h2.5M936.3 131.6h-2.5M629.2 122.0h2.5M936.3 122.0h-2.5M629.2 113.4h5.0M936.3 113.4h-5.0M629.2 57.0h2.5M936.3 57.0h-2.5" stroke-width="1.6"/>
</g>
<text x="647.4" y="285.2" font-size="20.5" text-anchor="middle">5</text>
<text x="786.8" y="285.2" font-size="20.5" text-anchor="middle">10</text>
<text x="868.3" y="285.2" font-size="20.5" text-anchor="middle">15</text>
<text x="926.2" y="285.2" font-size="20.5" text-anchor="middle">20</text>
<text x="614" y="122" font-size="20.5" text-anchor="end">10</text><text x="613.6" y="113" font-size="14">1</text>
<path d="M598.4 373.7L693.4 292.6" stroke="#000" stroke-width="2.6" fill="none"/>
<path d="M704.4 283.2L695.1 297.7L688.6 290.1Z" fill="#000"/>
</svg>
</body></html>
